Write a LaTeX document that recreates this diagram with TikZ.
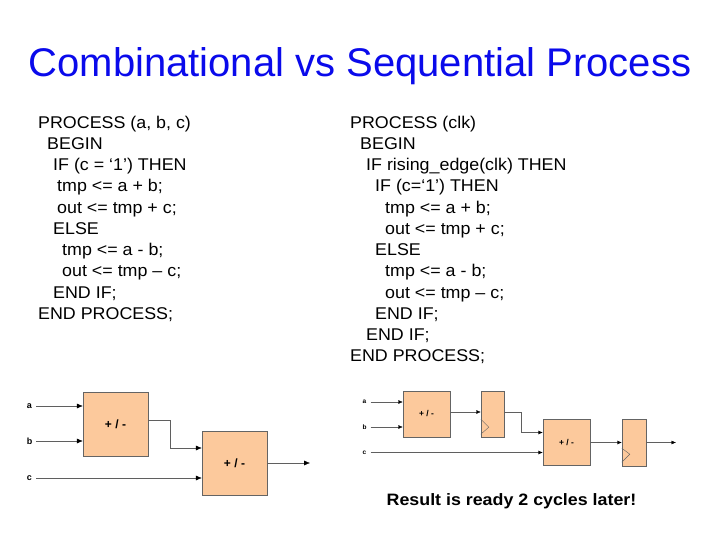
\documentclass[tikz,border=0pt]{standalone}
\usepackage{fontspec}
\setmainfont{Liberation Sans}
\newfontfamily\codefont[FakeStretch=1.05]{Liberation Sans}
\newfontfamily\notefont[FakeStretch=1.08]{Liberation Sans}
\usetikzlibrary{arrows.meta,positioning,calc}
\definecolor{titleblue}{RGB}{10,10,235}
\definecolor{alufill}{RGB}{252,201,156}
\definecolor{edge}{RGB}{100,100,100}
\definecolor{wiregray}{RGB}{95,95,95}

\begin{document}
\begin{tikzpicture}[
    x=1pt, y=-1pt,
    code/.style={anchor=north west, inner sep=0pt, align=left, font=\codefont\fontsize{17}{21.25}\selectfont},
    alu/.style={draw=edge, fill=alufill, inner sep=0pt, font=\bfseries\fontsize{12}{13}\selectfont},
    reg/.style={draw=edge, fill=alufill, inner sep=0pt, minimum width=23pt, minimum height=46pt},
    pin/.style={inner sep=1pt, font=\bfseries\fontsize{9}{10}\selectfont},
    wire/.style={-{Latex[length=6pt,width=5pt,color=black]}, wiregray},
    clk/.style={edge}
  ]
    \useasboundingbox (0,0) rectangle (720,540);

    \node[text=titleblue, font=\fontsize{40}{44}\selectfont] (title) at (360,66) {Combinational vs Sequential Process};

    % VHDL code
    \node[code] (combcode) at (38,115.5) {PROCESS (a, b, c)\\
      \hspace*{9pt}BEGIN\\
      \hspace*{15pt}IF (c = ‘1’) THEN\\
      \hspace*{19pt}tmp <= a + b;\\
      \hspace*{19pt}out <= tmp + c;\\
      \hspace*{15pt}ELSE\\
      \hspace*{24pt}tmp <= a - b;\\
      \hspace*{24pt}out <= tmp – c;\\
      \hspace*{15pt}END IF;\\
      END PROCESS;};
    \node[code] (seqcode) at (350,115.5) {PROCESS (clk)\\
      \hspace*{10pt}BEGIN\\
      \hspace*{16pt}IF rising\_edge(clk) THEN\\
      \hspace*{25pt}IF (c=‘1’) THEN\\
      \hspace*{35pt}tmp <= a + b;\\
      \hspace*{35pt}out <= tmp + c;\\
      \hspace*{25pt}ELSE\\
      \hspace*{35pt}tmp <= a - b;\\
      \hspace*{35pt}out <= tmp – c;\\
      \hspace*{25pt}END IF;\\
      \hspace*{16pt}END IF;\\
      END PROCESS;};

    % combinational circuit
    \node[alu, minimum width=65pt, minimum height=64pt] (alu1) at (115.5,424) {+ / -};
    \node[alu, minimum width=65pt, minimum height=64pt] (alu2) at (234.5,463) {+ / -};
    \node[pin, text width=8pt] (inA) at (31,406) {a};
    \node[pin, text width=8pt] (inB) at (31,441) {b};
    \node[pin, text width=8pt] (inC) at (31,478) {c};
    \coordinate (outL) at (310,463);

    \draw[wire] (inA.east) -- (inA.east -| alu1.west);
    \draw[wire] (inB.east) -- (inB.east -| alu1.west);
    \draw[wire] ([yshift=4pt]alu1.east) -- ++(22,0) |- ([yshift=15pt]alu2.west);
    \draw[wire] (inC.east) -- (inC.east -| alu2.west);
    \draw[wire] (alu2.east) -- (outL);

    % sequential circuit
    \begin{scope}[
        alu/.append style={font=\bfseries\fontsize{8.5}{9}\selectfont, minimum width=47pt, minimum height=46pt},
        pin/.append style={font=\bfseries\fontsize{6.5}{7}\selectfont},
        wire/.style={-{Latex[length=4.5pt,width=3.8pt,color=black]}, wiregray}
      ]
      \node[alu] (alu3) at (426.5,414) {+ / -};
      \node[reg] (ff1) at (492.5,414) {};
      \node[alu] (alu4) at (566.5,442.5) {+ / -};
      \node[reg, minimum width=24pt, minimum height=47pt] (ff2) at (634,442.5) {};
      \node[pin, text width=7pt] (sa) at (366,402) {a};
      \node[pin, text width=7pt] (sb) at (366,427) {b};
      \node[pin, text width=7pt] (sc) at (366,452.5) {c};
      \coordinate (outR) at (676,442.5);

      \draw[clk] ([yshift=18pt]ff1.south west) -- ([xshift=8pt,yshift=10pt]ff1.south west) -- ([yshift=3pt]ff1.south west);
      \draw[clk] ([yshift=18pt]ff2.south west) -- ([xshift=8pt,yshift=12pt]ff2.south west) -- ([yshift=4pt]ff2.south west);

      \draw[wire] (sa.east) -- (sa.east -| alu3.west);
      \draw[wire] (sb.east) -- (sb.east -| alu3.west);
      \draw[wire] ([yshift=2pt]alu3.east) -- ([yshift=2pt]ff1.west);
      \draw[wire] ([yshift=2pt]ff1.east) -- ++(17,0) |- ([yshift=10pt]alu4.west);
      \draw[wire] (sc.east) -- (sc.east -| alu4.west);
      \draw[wire] (alu4.east) -- (ff2.west);
      \draw[wire] (ff2.east) -- (outR);
    \end{scope}

    \node[font=\notefont\bfseries\fontsize{16.5}{19}\selectfont] (result) at (511.5,501) {Result is ready 2 cycles later!};
  \end{tikzpicture}
\end{document}
